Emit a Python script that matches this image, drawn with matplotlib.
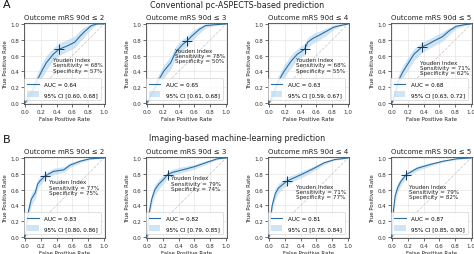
import matplotlib
matplotlib.use("Agg")
import matplotlib.pyplot as plt
from matplotlib.patches import Patch
from matplotlib.lines import Line2D

row_titles = ["Conventional pc-ASPECTS-based prediction",
              "Imaging-based machine-learning prediction"]
row_letters = ["A", "B"]
outcomes = ["Outcome mRS 90d \u2264 2", "Outcome mRS 90d \u2264 3",
            "Outcome mRS 90d \u2264 4", "Outcome mRS 90d \u2264 5"]

auc = [[0.64, 0.65, 0.63, 0.68], [0.83, 0.82, 0.81, 0.87]]
ci_low = [[0.60, 0.61, 0.59, 0.63], [0.80, 0.79, 0.78, 0.85]]
ci_high = [[0.68, 0.68, 0.67, 0.72], [0.86, 0.85, 0.84, 0.90]]
sensitivity = [[68, 78, 68, 71], [77, 79, 71, 79]]
specificity = [[57, 50, 55, 62], [75, 74, 77, 82]]

# ROC curves (false positive rate, true positive rate, CI band)
fpr_a1 = [0, 0.05, 0.10, 0.14, 0.21, 0.27, 0.36, 0.43, 0.53, 0.63, 0.70, 0.76, 0.84, 0.91, 1.0]
tpr_a1 = [0, 0.08, 0.17, 0.26, 0.40, 0.51, 0.62, 0.68, 0.72, 0.77, 0.85, 0.91, 0.98, 1.0, 1.0]
lo_a1 = [0, 0.03, 0.10, 0.18, 0.31, 0.42, 0.54, 0.60, 0.65, 0.70, 0.78, 0.85, 0.94, 0.99, 1.0]
hi_a1 = [0, 0.13, 0.24, 0.34, 0.49, 0.60, 0.70, 0.76, 0.80, 0.85, 0.92, 0.97, 1.0, 1.0, 1.0]

fpr_a2 = [0, 0.05, 0.13, 0.21, 0.30, 0.36, 0.45, 0.50, 0.57, 0.66, 0.74, 0.85, 1.0]
tpr_a2 = [0, 0.09, 0.26, 0.40, 0.51, 0.64, 0.74, 0.78, 0.85, 0.93, 0.98, 0.99, 1.0]
lo_a2 = [0, 0.05, 0.19, 0.32, 0.43, 0.56, 0.67, 0.71, 0.79, 0.88, 0.95, 0.98, 1.0]
hi_a2 = [0, 0.14, 0.33, 0.48, 0.59, 0.71, 0.81, 0.84, 0.91, 0.97, 1.0, 1.0, 1.0]

fpr_a3 = [0, 0.05, 0.11, 0.19, 0.28, 0.36, 0.45, 0.49, 0.56, 0.64, 0.73, 0.82, 0.90, 1.0]
tpr_a3 = [0, 0.10, 0.26, 0.40, 0.53, 0.62, 0.68, 0.77, 0.82, 0.86, 0.91, 0.96, 0.98, 1.0]
lo_a3 = [0, 0.06, 0.19, 0.32, 0.45, 0.55, 0.61, 0.70, 0.76, 0.80, 0.86, 0.93, 0.97, 1.0]
hi_a3 = [0, 0.15, 0.33, 0.48, 0.61, 0.69, 0.75, 0.83, 0.88, 0.91, 0.95, 0.99, 1.0, 1.0]

fpr_a4 = [0, 0.04, 0.08, 0.14, 0.21, 0.28, 0.38, 0.45, 0.54, 0.64, 0.72, 0.81, 0.91, 1.0]
tpr_a4 = [0, 0.12, 0.28, 0.40, 0.51, 0.62, 0.71, 0.74, 0.79, 0.84, 0.91, 0.97, 0.99, 1.0]
lo_a4 = [0, 0.07, 0.21, 0.32, 0.43, 0.54, 0.64, 0.68, 0.73, 0.78, 0.86, 0.94, 0.98, 1.0]
hi_a4 = [0, 0.17, 0.35, 0.48, 0.59, 0.69, 0.77, 0.80, 0.85, 0.90, 0.95, 0.99, 1.0, 1.0]

fpr_b1 = [0, 0.02, 0.04, 0.08, 0.13, 0.16, 0.19, 0.25, 0.36, 0.49, 0.57, 0.70, 0.82, 1.0]
tpr_b1 = [0, 0.14, 0.31, 0.48, 0.56, 0.67, 0.71, 0.77, 0.83, 0.85, 0.91, 0.96, 0.99, 1.0]
lo_b1 = [0, 0.09, 0.24, 0.40, 0.49, 0.61, 0.66, 0.73, 0.79, 0.82, 0.88, 0.94, 0.98, 1.0]
hi_b1 = [0, 0.20, 0.38, 0.55, 0.63, 0.73, 0.76, 0.81, 0.87, 0.89, 0.94, 0.98, 1.0, 1.0]

fpr_b2 = [0, 0.01, 0.03, 0.06, 0.10, 0.15, 0.21, 0.26, 0.33, 0.45, 0.60, 0.77, 0.89, 1.0]
tpr_b2 = [0, 0.12, 0.32, 0.48, 0.60, 0.67, 0.73, 0.79, 0.82, 0.85, 0.89, 0.95, 0.99, 1.0]
lo_b2 = [0, 0.07, 0.25, 0.41, 0.53, 0.61, 0.68, 0.75, 0.78, 0.82, 0.86, 0.93, 0.98, 1.0]
hi_b2 = [0, 0.18, 0.39, 0.55, 0.67, 0.73, 0.78, 0.83, 0.86, 0.89, 0.92, 0.97, 1.0, 1.0]

fpr_b3 = [0, 0.01, 0.02, 0.04, 0.08, 0.12, 0.18, 0.23, 0.32, 0.45, 0.57, 0.70, 0.83, 1.0]
tpr_b3 = [0, 0.10, 0.25, 0.40, 0.55, 0.62, 0.67, 0.71, 0.75, 0.81, 0.87, 0.94, 0.98, 1.0]
lo_b3 = [0, 0.06, 0.18, 0.33, 0.48, 0.56, 0.62, 0.66, 0.71, 0.77, 0.84, 0.92, 0.97, 1.0]
hi_b3 = [0, 0.15, 0.32, 0.47, 0.62, 0.68, 0.72, 0.76, 0.79, 0.85, 0.90, 0.96, 0.99, 1.0]

fpr_b4 = [0, 0.01, 0.02, 0.04, 0.07, 0.11, 0.18, 0.25, 0.32, 0.49, 0.65, 0.82, 1.0]
tpr_b4 = [0, 0.15, 0.35, 0.52, 0.62, 0.70, 0.79, 0.83, 0.87, 0.92, 0.96, 0.99, 1.0]
lo_b4 = [0, 0.10, 0.28, 0.45, 0.56, 0.65, 0.75, 0.80, 0.84, 0.90, 0.95, 0.98, 1.0]
hi_b4 = [0, 0.21, 0.42, 0.59, 0.68, 0.75, 0.83, 0.86, 0.90, 0.94, 0.97, 1.0, 1.0]

curves = [[(fpr_a1, tpr_a1, lo_a1, hi_a1), (fpr_a2, tpr_a2, lo_a2, hi_a2),
           (fpr_a3, tpr_a3, lo_a3, hi_a3), (fpr_a4, tpr_a4, lo_a4, hi_a4)],
          [(fpr_b1, tpr_b1, lo_b1, hi_b1), (fpr_b2, tpr_b2, lo_b2, hi_b2),
           (fpr_b3, tpr_b3, lo_b3, hi_b3), (fpr_b4, tpr_b4, lo_b4, hi_b4)]]

# layout (positions of annotation text in axes data coords)
text_pos = [[(0.36, 0.58), (0.35, 0.70), (0.34, 0.58), (0.36, 0.55)],
            [(0.30, 0.73), (0.31, 0.78), (0.34, 0.67), (0.21, 0.67)]]

W, H = 474, 255
fig = plt.figure(figsize=(W / 100, H / 100), dpi=100)
fig.patch.set_facecolor("white")

line_col = "#2f6d9c"
band_col = "#a8d0ee"
lims = (-0.01, 1.01)
ppu = 79.0  # pixels per data unit
ax_w = ppu * (lims[1] - lims[0])
data0_x = [25, 147, 269, 392]
data1_y = [25, 159]

for r in range(2):
    fig.text(237 / W, 1 - (6 if r == 0 else 139) / H, row_titles[r],
             ha="center", va="center", fontsize=5.8, color="#222222")
    fig.text(3 / W, 1 - (5 if r == 0 else 140) / H, row_letters[r],
             ha="left", va="center", fontsize=8, color="#111111")
    for c in range(4):
        left = data0_x[c] - ppu * (0 - lims[0])
        top = data1_y[r] - ppu * (lims[1] - 1)
        ax = fig.add_axes([left / W, 1 - (top + ax_w) / H, ax_w / W, ax_w / H])
        fpr, tpr, lo, hi = curves[r][c]
        ax.set_xlim(*lims)
        ax.set_ylim(*lims)
        ax.set_xticks([0, 0.2, 0.4, 0.6, 0.8, 1.0])
        ax.set_yticks([0, 0.2, 0.4, 0.6, 0.8, 1.0])
        ax.grid(True, color="#e6e6e6", lw=0.5)
        ax.set_axisbelow(True)
        ax.plot([0, 1], [0, 1], ls="--", color="#d9c9c9", lw=0.6, zorder=1)
        ax.fill_between(fpr, lo, hi, color=band_col, alpha=0.55, lw=0, zorder=2)
        ax.plot(fpr, tpr, color=line_col, lw=0.8, zorder=3)
        yx = 1 - specificity[r][c] / 100
        yy = sensitivity[r][c] / 100
        ax.plot([yx], [yy], marker="+", ms=7, mew=0.7, color="#1d3550", zorder=4)
        tx, ty = text_pos[r][c]
        ax.text(tx, ty, "Youden Index\nSensitivity = %d%%\nSpecificity = %d%%"
                % (sensitivity[r][c], specificity[r][c]),
                fontsize=4.1, va="top", ha="left", color="#222222",
                linespacing=1.05, zorder=5)
        handles = [Line2D([], [], color=line_col, lw=0.8),
                   Patch(facecolor=band_col, alpha=0.55, edgecolor="none")]
        labels = ["AUC = %.2f" % auc[r][c],
                  "95%% CI [%.2f, %.2f]" % (ci_low[r][c], ci_high[r][c])]
        leg = ax.legend(handles, labels, loc="lower right", fontsize=4.1,
                        frameon=True, handlelength=2.0, handleheight=1.0,
                        borderpad=0.6, labelspacing=0.8, borderaxespad=0.6,
                        handletextpad=1.0, fancybox=True)
        leg.get_frame().set_edgecolor("#cccccc")
        leg.get_frame().set_linewidth(0.5)
        leg.get_frame().set_alpha(0.85)
        for sp in ax.spines.values():
            sp.set_color("#444444")
            sp.set_linewidth(0.6)
        ax.tick_params(labelsize=4.1, length=2, width=0.5, pad=1.5,
                       colors="#333333")
        ax.set_xlabel("False Positive Rate", fontsize=4.0, labelpad=1.5,
                      color="#222222")
        ax.set_ylabel("True Positive Rate", fontsize=4.0, labelpad=1.5,
                      color="#222222")
        ax.set_title(outcomes[c], fontsize=5.0, pad=3, color="#222222")

fig.savefig("out.png", dpi=100)
